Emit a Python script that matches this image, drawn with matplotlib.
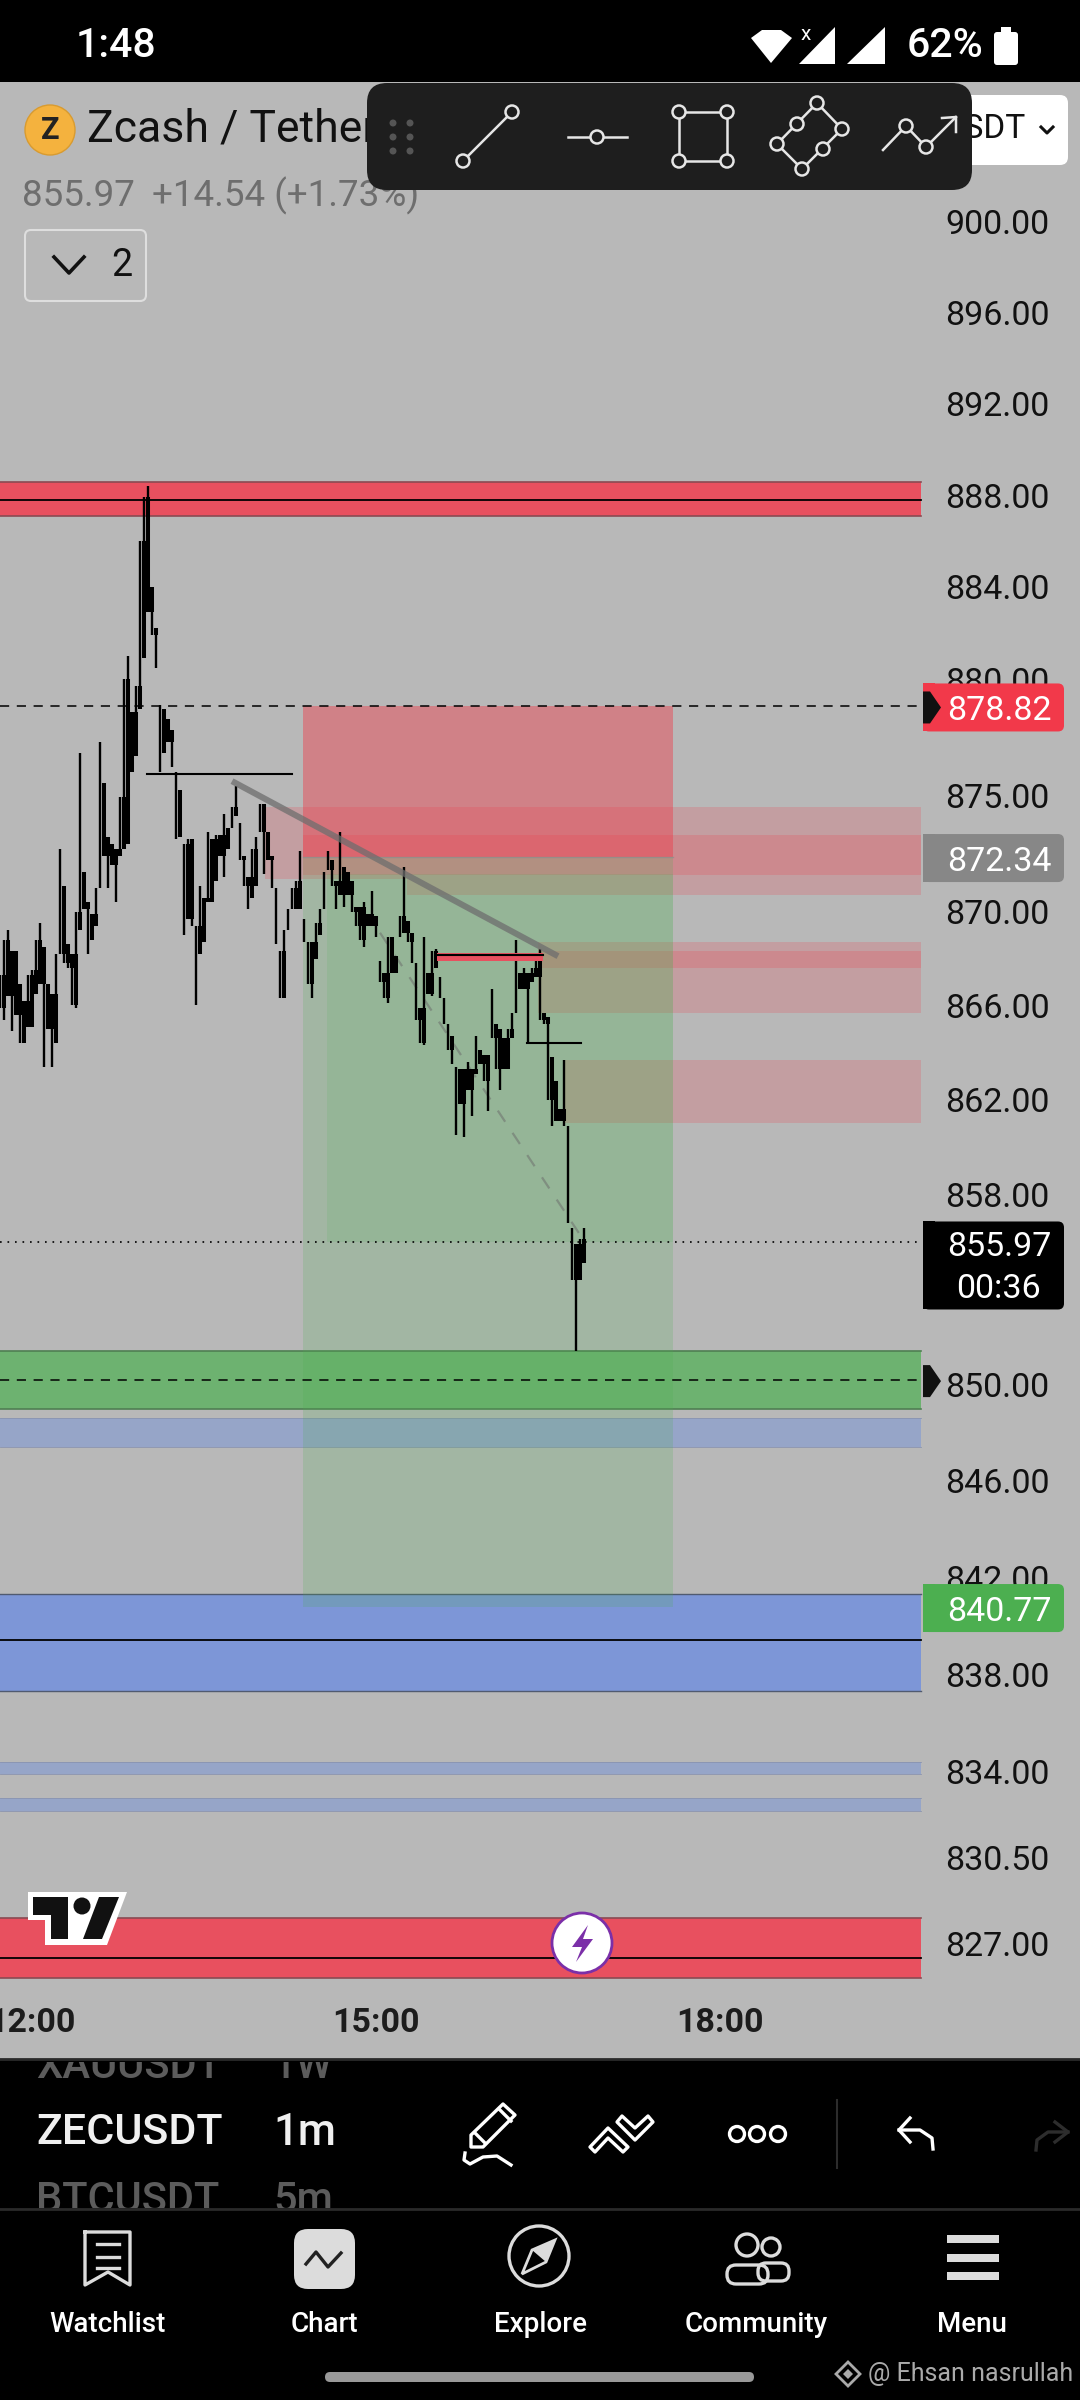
import matplotlib
matplotlib.use('Agg')
import matplotlib.pyplot as plt
from matplotlib.patches import Rectangle, FancyBboxPatch, Circle, Polygon
import numpy as np

plt.rcParams['font.family'] = ['Roboto', 'DejaVu Sans']

# candles, left to right
highs = [867.3, 868.8, 869.2, 868.3, 868.3, 866.9, 866.2, 867.3, 867.5, 868.8, 869.5, 868.5, 866.9, 866.5, 868.2,
         872.7, 871.1, 868.6, 868.2, 870.0, 876.8, 871.7, 870.4, 869.9, 871.0, 877.3, 875.5, 873.2, 872.9, 872.7,
         874.9, 880.0, 881.0, 878.6, 879.7, 886.0, 887.9, 888.4, 884.0, 882.2, 878.9, 878.7, 878.3, 877.8, 876.0,
         875.2, 872.9, 873.1, 873.1, 869.4, 871.1, 870.6, 873.4, 873.1, 873.3, 873.3, 874.2, 873.6, 874.5, 875.4,
         873.8, 872.4, 871.5, 872.7, 873.2, 874.6, 874.6, 873.4, 872.4, 871.0, 868.3, 869.2, 870.1, 871.0, 871.3,
         872.6, 869.7, 868.7, 868.7, 869.5, 870.1, 871.7, 872.6, 872.2, 871.3,
         873.4, 871.9, 871.7, 871.3, 870.2, 870.2, 870.4, 869.9, 870.9, 869.8, 867.9, 867.4, 868.9, 868.9, 868.1,
         869.8, 871.9, 869.6, 869.1, 867.8, 865.9, 868.9, 867.4, 868.3, 868.4, 867.2, 866.3, 865.2, 864.7, 863.4,
         863.3, 863.3, 863.6, 863.3, 864.7, 864.1, 863.9, 863.9, 866.7, 865.2, 865.0, 864.6, 865.0, 865.7, 868.8,
         867.4, 867.6, 867.4, 867.6, 868.2, 868.4, 865.7, 865.5, 863.8, 862.8, 861.6, 863.7, 860.9, 856.6, 855.9,
         856.1, 856.6]
lows = [865.9, 865.4, 866.4, 864.9, 865.6, 864.4, 864.4, 865.1, 865.1, 866.5, 866.9, 863.4, 865.0, 863.4, 864.4,
        868.2, 867.8, 867.6, 866.0, 865.9, 869.2, 870.1, 868.2, 868.8, 869.4, 871.0, 872.4, 871.0, 872.0, 870.4,
        872.4, 872.7, 872.9, 876.0, 876.7, 878.7, 880.9, 882.9, 881.9, 880.5, 876.0, 876.8, 877.3, 876.2, 873.1,
        873.2, 869.0, 869.7, 869.4, 866.0, 868.2, 868.7, 870.4, 870.4, 871.3, 872.4, 871.5, 872.7, 873.6, 874.1,
        872.2, 871.1, 870.1, 870.6, 871.1, 873.4, 871.6, 872.2, 871.0, 868.6, 866.3, 866.3, 869.2, 870.1, 870.1,
        870.1, 868.7, 866.9, 866.3, 868.0, 869.0, 870.1, 871.8, 871.1, 870.1,
        870.7, 870.2, 870.7, 870.0, 869.4, 868.8, 868.5, 869.4, 869.4, 868.9, 867.0, 866.3, 866.1, 867.4, 867.4,
        868.9, 869.1, 868.7, 867.8, 865.4, 864.4, 864.3, 866.5, 866.4, 867.6, 866.3, 865.2, 864.1, 863.5, 860.5,
        861.8, 860.4, 862.4, 861.3, 863.1, 863.5, 862.8, 861.5, 864.6, 863.3, 862.4, 863.3, 863.3, 864.6, 865.7,
        866.7, 866.7, 864.4, 867.0, 867.2, 865.4, 865.2, 862.0, 860.9, 861.1, 861.1, 860.9, 856.8, 854.4, 851.4,
        854.4, 855.1]

# minutes after 12:00
first_bar = -19.35
bar_step = 2.092
zone_end = 462.3

price_ticks = [900, 896, 892, 888, 884, 880, 875, 870, 866, 862, 858, 850, 846, 842, 838, 834, 830.5, 827]
time_ticks = [-2.6, 177.4, 357.4]
time_labels = ['12:00', '15:00', '18:00']

# full width zones
red_top = [888.57, 828.0]
red_bottom = [887.1, 825.6]
red_mid = [887.8, 826.4]
blue_top = [841.3]
blue_bottom = [837.3]
blue_mid = [839.4]
green_top = [851.4]
green_bottom = [849.0]
thin_blue_top = [848.6, 834.4, 832.9]
thin_blue_bottom = [847.4, 833.9, 832.4]

# pale zones that start inside the chart
pale_start = [119.2, 193.5, 139, 262, 262, 275]
pale_top = [874.5, 871.4, 873.28, 868.7, 868.3, 863.7]
pale_bottom = [871.4, 870.7, 871.55, 865.7, 867.6, 861.0]

# long position tool
entry = 872.34
stop = 878.82
target = 840.77
last_price = 855.97
pos_start = 139
pos_inner = 151.7
pos_end = 332.6

trend_t = [102, 272.5]
trend_p = [875.6, 868.1]
guide_t = [179.4, 285.6]
guide_p = [869.1, 856.1]

fig = plt.figure(figsize=(10.8, 24), dpi=100, facecolor='black')
ax = fig.add_axes([0, 1 - 2059 / 2400, 1, (2059 - 82) / 2400], facecolor='#b8b8b8')
ax.set_yscale('log')
ax.set_xlim(-19.35, 545.5)
ax.set_ylim(822.3, 906.21)
for s in ax.spines.values():
    s.set_visible(False)


def zone(tops, bottoms, color, edge, edge_w):
    for top, bottom in zip(tops, bottoms):
        ax.fill_between([first_bar, zone_end], bottom, top, color=color, lw=0, zorder=1)
        ax.plot([first_bar, zone_end], [top, top], color=edge, lw=edge_w, zorder=1.1)
        ax.plot([first_bar, zone_end], [bottom, bottom], color=edge, lw=edge_w, zorder=1.1)


# zones
zone(red_top, red_bottom, '#e8505f', '#8a4a52', 1.2)
zone(blue_top, blue_bottom, '#7d96d7', '#505a70', 1.0)
zone(thin_blue_top, thin_blue_bottom, '#96a5c8', '#8a94b0', 0.6)
zone(green_top, green_bottom, '#6db270', '#4f7f52', 1.2)
for s0, top, bottom in zip(pale_start, pale_top, pale_bottom):
    ax.fill_between([s0, zone_end], bottom, top, color='#f23645', alpha=0.2, lw=0, zorder=1.2)

ax.fill_between([pos_start, pos_end], entry, stop, color='#f23645', alpha=0.42, lw=0, zorder=1.3)
ax.fill_between([pos_start, pos_end], target, entry, color='#4caf50', alpha=0.2, lw=0, zorder=1.3)
ax.fill_between([pos_inner, pos_end], last_price, 871.6, color='#4caf50', alpha=0.14, lw=0, zorder=1.3)
ax.plot([pos_start, pos_end], [entry, entry], color='#8c8c8c', lw=1, alpha=0.7, zorder=1.4)

for p in red_mid + blue_mid:
    ax.plot([first_bar, zone_end], [p, p], color='black', lw=1.3, zorder=2)
ax.plot([first_bar, zone_end], [stop, stop], color='black', lw=1.1, dashes=(6, 5), zorder=2)
ax.plot([first_bar, zone_end], [850.2, 850.2], color='black', lw=1.1, dashes=(6, 5), zorder=2)
ax.plot([first_bar, zone_end], [last_price, last_price], color='black', lw=1.2, dashes=(1, 3.5), zorder=2)

ax.plot(guide_t, guide_p, color='#7f8f80', lw=1.6, dashes=(6, 6), zorder=2)

# candles
bar_t = first_bar + bar_step * np.arange(len(highs))
ax.vlines(bar_t, lows, highs, color='black', lw=1.7, zorder=3)
body_lo = np.maximum(lows[1:], lows[:-1])
body_hi = np.minimum(highs[1:], highs[:-1])
keep = body_hi > body_lo
ax.vlines(bar_t[1:][keep], body_lo[keep], body_hi[keep], color='black', lw=2.9, zorder=3)

# drawings on top of candles
ax.fill_between([209, 264.6], 867.9, 868.25, color='#e8505f', lw=0, zorder=3.5)
ax.plot([209, 264.6], [868.15, 868.15], color='black', lw=1.5, zorder=3.6)
ax.plot([57.5, 133.4], [875.9, 875.9], color='black', lw=1.5, zorder=3.6)
ax.plot([256.3, 284.5], [864.4, 864.4], color='black', lw=1.5, zorder=3.6)
ax.plot(trend_t, trend_p, color='#6e6e6e', alpha=0.75, lw=4.4, zorder=3.7, solid_capstyle='butt')

# axes labels sit inside the chart
ax.yaxis.tick_right()
ax.set_yticks(price_ticks)
ax.set_yticklabels(['%.2f' % p for p in price_ticks])
ax.yaxis.set_minor_locator(matplotlib.ticker.NullLocator())
ax.tick_params(axis='y', length=0, pad=-97, labelsize=24.5, labelcolor='#111111')
for lab in ax.get_yticklabels():
    lab.set_verticalalignment('center_baseline')
ax.set_xticks(time_ticks)
ax.set_xticklabels(time_labels, fontweight='bold')
ax.tick_params(axis='x', length=0, pad=-37.5, labelsize=24.5, labelcolor='#1c1c1c')

# overlay in screen pixels for the app chrome
ui = fig.add_axes([0, 0, 1, 1], facecolor='none')
ui.set_xlim(0, 1080)
ui.set_ylim(2400, 0)
ui.axis('off')


def price_y(price):
    return 2400 - ax.transData.transform((0, price))[1]


def rounded(x0, y0, x1, y1, r, **kw):
    p = FancyBboxPatch((x0 + r, y0 + r), x1 - x0 - 2 * r, y1 - y0 - 2 * r,
                       boxstyle='round,pad=%f,rounding_size=%f' % (r, r), **kw)
    ui.add_patch(p)
    return p


def price_tag(price, color, sub=None):
    y = price_y(price) + 1
    top = y - 24
    bottom = y + 24
    if sub:
        top = y - 22
        bottom = y + 66
    rounded(923, top, 1064, bottom, 6, fc=color, ec='none', zorder=5)
    ui.add_patch(Rectangle((923, top), 12, bottom - top, fc=color, ec='none', zorder=5))
    ui.text(999, y, '%.2f' % price, color='white', fontsize=24.5, ha='center', va='center_baseline', zorder=6)
    if sub:
        ui.text(999, y + 42, sub, color='white', fontsize=24.5, ha='center', va='center_baseline', zorder=6)


price_tag(stop, '#f2394a')
price_tag(entry, '#878787')
price_tag(target, '#4caf50')
price_tag(last_price, 'black', '00:36')
for p in (stop, 850.2):
    y = price_y(p) + 1
    ui.add_patch(Polygon([(923, y - 16), (930, y - 16), (941, y), (930, y + 16), (923, y + 16)], fc='#111111', zorder=6))

# status bar
ui.add_patch(Rectangle((0, 0), 1080, 80, fc='black', zorder=4))
ui.text(76, 46, '1:48', color='white', fontsize=29.5, fontweight='medium', va='center', zorder=5)
ui.add_patch(Polygon([(751, 38), (762, 30), (781, 30), (792, 38), (771, 63)], fc='white', zorder=5))
ui.text(806, 34, 'x', color='white', fontsize=15, ha='center', va='center', zorder=5)
ui.add_patch(Polygon([(799, 64), (835, 27), (835, 64)], fc='white', zorder=5))
ui.add_patch(Polygon([(847, 64), (885, 27), (885, 64)], fc='white', zorder=5))
ui.text(907, 46, '62%', color='white', fontsize=29.5, fontweight='medium', va='center', zorder=5)
rounded(994, 32, 1018, 65, 3, fc='white', ec='none', zorder=5)
ui.add_patch(Rectangle((1001, 27), 10, 6, fc='white', zorder=5))

# header over the chart
ui.add_patch(Circle((50, 130), 25, fc='#f4b23e', ec='#d89b30', zorder=5))
ui.text(50, 130, 'Z', color='#222222', fontsize=22, fontweight='bold', ha='center', va='center', zorder=6)
ui.text(87, 130, 'Zcash / Tether', color='#111111', fontsize=32, va='center', zorder=5)
ui.text(22, 196, '855.97', color='#6e6e6e', fontsize=26.5, va='center', zorder=5)
ui.text(152, 196, '+14.54 (+1.73%)', color='#6e6e6e', fontsize=26.5, va='center', zorder=5)
rounded(25, 230, 146, 301, 6, fc='none', ec='#dedede', lw=1.5, zorder=5)
ui.plot([54, 69, 84], [257, 273, 257], color='#111111', lw=2.6, zorder=5)
ui.text(122, 265, '2', color='#111111', fontsize=27, ha='center', va='center', zorder=5)
rounded(940, 95, 1068, 165, 8, fc='white', ec='none', zorder=5)
ui.text(1026, 129, 'USDT', color='#111111', fontsize=24, ha='right', va='center', zorder=5.5)
ui.plot([1041, 1047, 1053], [127, 133, 127], color='#111111', lw=2.2, zorder=5.5)

# drawing toolbar
rounded(367, 83, 972, 190, 20, fc='#1e1e1e', ec='none', zorder=7)
for dx in (393, 410):
    for dy in (123, 137, 151):
        ui.add_patch(Circle((dx, dy), 3.5, fc='#555555', zorder=8))
icon = dict(color='#e6e6e6', lw=1.8, zorder=8)
dots = []
ui.plot([463, 512], [161, 112], **icon)
dots += [(463, 161), (512, 112)]
ui.plot([568, 627], [137, 137], **icon)
dots += [(597, 137)]
ui.plot([679, 727, 727, 679, 679], [112, 112, 161, 161, 112], **icon)
dots += [(679, 112), (727, 112), (727, 161), (679, 161)]
ui.plot([817, 842, 802, 777, 817], [103, 129, 169, 144, 103], **icon)
dots += [(817, 103), (842, 129), (802, 169), (777, 144), (797, 124), (823, 149)]
ui.plot([883, 906, 926, 956], [150, 126, 147, 117], **icon)
ui.plot([942, 956, 956], [118, 117, 132], **icon)
dots += [(906, 126), (926, 147)]
for d in dots:
    ui.add_patch(Circle(d, 6.5, fc='#1e1e1e', ec='#e6e6e6', lw=1.8, zorder=9))

# tradingview logo and lightning button
ui.add_patch(Polygon([(28, 1892), (127, 1892), (107, 1945), (45, 1945), (45, 1920), (28, 1920)],
                     fc='white', ec='none', zorder=5))
ui.add_patch(Polygon([(33, 1897), (68, 1897), (68, 1939), (51, 1939), (51, 1915), (33, 1915)],
                     fc='#111111', zorder=6))
ui.add_patch(Circle((82, 1906), 8.5, fc='#111111', zorder=6))
ui.add_patch(Polygon([(99, 1897), (119, 1897), (102, 1939), (83, 1939)], fc='#111111', zorder=6))
ui.add_patch(Circle((582, 1943), 30, fc='white', ec='#7b2fa8', lw=2, zorder=5))
ui.add_patch(Polygon([(588, 1925), (572, 1947), (582, 1947), (576, 1962), (593, 1939), (583, 1939)],
                     fc='#7b2fa8', zorder=6))

# bottom panel, the picker rows above and below are cut by the panel edges
ui.plot([0, 1080], [2059, 2059], color='#2a2a2a', lw=2, zorder=4)
ui.plot([0, 1080], [2209, 2209], color='#2a2a2a', lw=2, zorder=4)
clip_top = Rectangle((0, 2062), 224, 26, transform=ui.transData)
clip_top2 = Rectangle((224, 2062), 200, 26, transform=ui.transData)
clip_bot = Rectangle((0, 2180), 224, 28, transform=ui.transData)
clip_bot2 = Rectangle((224, 2180), 200, 28, transform=ui.transData)
clip_mid = Rectangle((0, 2090), 224, 90, transform=ui.transData)
rows = [('XAUUSDT', 36, 2066, clip_top), ('1W', 273, 2066, clip_top2), ('BTCUSDT', 36, 2200, clip_bot),
        ('5m', 273, 2200, clip_bot2)]
for label, x, y, clip in rows:
    t = ui.text(x, y, label, color='#5c5c5c', fontsize=30, fontweight='medium', va='center', zorder=5)
    t.set_clip_on(True)
    t.set_clip_path(clip)
t = ui.text(36, 2133, 'ZECUSDT', color='#f0f0f0', fontsize=31, fontweight='medium', va='center', zorder=5)
t.set_clip_on(True)
t.set_clip_path(clip_mid)
ui.text(273, 2133, '1m', color='#f0f0f0', fontsize=31.5, fontweight='medium', va='center', zorder=5)

white = dict(color='white', lw=2.4, zorder=5)
ui.add_patch(Polygon([(471, 2147), (471, 2135), (503, 2104), (515, 2115), (483, 2147)], fc='none', ec='white',
                     lw=2.4, joinstyle='round', zorder=5))
ui.plot([499, 511], [2109, 2121], **white)
ui.plot([475, 485], [2133, 2143], **white)
ui.plot([465, 464, 470, 483, 497, 511], [2153, 2160, 2164, 2157, 2156, 2165], **white)
ui.add_patch(Polygon([(590, 2147), (608, 2128), (628, 2147), (623, 2152), (608, 2138), (595, 2152)], fc='none',
                     ec='white', lw=2.4, joinstyle='round', zorder=5))
ui.add_patch(Polygon([(617, 2122), (635, 2140), (653, 2122), (648, 2116), (635, 2128), (622, 2116)], fc='none',
                     ec='white', lw=2.4, joinstyle='round', zorder=5))
for x in (737, 757, 778):
    ui.add_patch(Circle((x, 2134), 7.5, fc='black', ec='white', lw=2.4, zorder=5))
ui.plot([837, 837], [2100, 2168], color='#2c2c2c', lw=1.5, zorder=5)
ui.plot([910, 899, 910], [2118, 2130, 2142], **white)
ui.plot([899, 920, 932, 933], [2130, 2130, 2138, 2149], **white)
dim = dict(color='#2d2d2d', lw=2.4, zorder=5)
ui.plot([1055, 1068, 1055], [2122, 2132, 2142], **dim)
ui.plot([1068, 1048, 1037, 1036], [2132, 2132, 2140, 2150], **dim)

nav_x = [108, 324, 540, 756, 972]
nav_labels = ['Watchlist', 'Chart', 'Explore', 'Community', 'Menu']
for x, label in zip(nav_x, nav_labels):
    ui.text(x, 2324, label, color='white', fontsize=20, fontweight='medium', ha='center', va='center', zorder=5)

nav = dict(color='#dcdcdc', lw=2.4, zorder=5)
ui.plot([85, 130, 130, 108, 85, 85], [2232, 2232, 2285, 2272, 2285, 2232], **nav)
for y in (2244, 2257, 2268):
    ui.plot([97, 119], [y, y], **nav)
rounded(294, 2229, 355, 2289, 14, fc='#dcdcdc', ec='none', zorder=5)
ui.plot([306, 316, 328, 341], [2264, 2252, 2267, 2253], color='#222222', lw=2.4, zorder=6)
ui.add_patch(Circle((539, 2256), 30, fc='none', ec='#dcdcdc', lw=2.4, zorder=5))
ui.add_patch(Polygon([(522, 2274), (532, 2250), (555, 2240), (546, 2262)], fc='none', ec='#dcdcdc', lw=2, zorder=5))
ui.add_patch(Polygon([(532, 2250), (555, 2240), (546, 2262)], fc='#dcdcdc', zorder=5))
ui.add_patch(Circle((747, 2245), 11, fc='none', ec='#dcdcdc', lw=2.4, zorder=5))
ui.add_patch(Circle((771, 2247), 9, fc='none', ec='#dcdcdc', lw=2.4, zorder=5))
rounded(727, 2265, 768, 2284, 9, fc='none', ec='#dcdcdc', lw=2.4, zorder=5)
rounded(758, 2263, 789, 2281, 8, fc='none', ec='#dcdcdc', lw=2.4, zorder=5)
for y in (2239, 2258, 2276):
    ui.add_patch(Rectangle((947, y - 4), 52, 8, fc='#dcdcdc', zorder=5))

rounded(325, 2372, 754, 2382, 5, fc='#999999', ec='none', zorder=5)
ui.add_patch(Polygon([(848, 2362), (860, 2374), (848, 2386), (836, 2374)], fc='none', ec='#aaaaaa', lw=2, zorder=5))
ui.add_patch(Polygon([(848, 2369), (853, 2374), (848, 2379), (843, 2374)], fc='#aaaaaa', zorder=5))
ui.text(868, 2374, '@ Ehsan nasrullah', color='#aaaaaa', fontsize=18, va='center', zorder=5)

fig.savefig('out.png', dpi=100, facecolor='black')
